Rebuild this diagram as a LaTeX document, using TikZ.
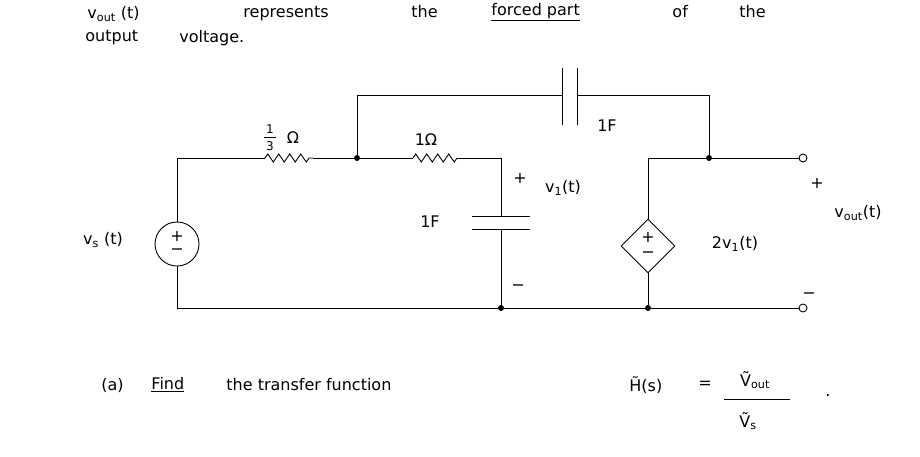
\documentclass[tikz,border=0pt]{standalone}
\usepackage{fontspec}
\setmainfont{DejaVu Sans}
\usetikzlibrary{decorations.pathmorphing,shapes.geometric}
\newcommand{\tld}[1]{#1\char"0303}
\begin{document}
\begin{tikzpicture}[x=1pt,y=-1pt,line width=0.9pt,
  dot/.style={circle,fill,inner sep=0pt,minimum size=6pt},
  term/.style={circle,draw,fill=white,inner sep=0pt,minimum size=8pt},
  res/.style={decorate,decoration={zigzag,segment length=11pt,amplitude=4pt}},
  lbl/.style={font=\fontsize{16}{18}\selectfont,inner sep=1pt},
  sml/.style={font=\fontsize{12}{14}\selectfont,inner sep=0.5pt}]
\useasboundingbox (0,0) rectangle (920,456);
\coordinate (TL) at (177,158);
\coordinate (BL) at (177,308);
\node[circle,draw,minimum size=44pt,inner sep=0pt] (vs) at (177,244) {};
\node[lbl] at (177,236) {+};
\node[lbl] at (177,252) {\textminus};
\coordinate (r1a) at (265,158); \coordinate (r1b) at (313,158);
\node[dot] (A) at (357,158) {};
\coordinate (r2a) at (413,158); \coordinate (r2b) at (457,158);
\coordinate (C1) at (501,158);
\coordinate (c1t) at (501,216); \coordinate (c1b) at (501,229);
\node[dot] (B) at (501,308) {};
\coordinate (AT) at (357,95);
\coordinate (OT) at (709,95);
\coordinate (c2l) at (562,95); \coordinate (c2r) at (577,95);
\node[dot] (O) at (709,158) {};
\coordinate (DT) at (648,158);
\node[diamond,draw,minimum size=54pt,inner sep=0pt] (dep) at (648,246) {};
\node[lbl] at (648,237) {+};
\node[lbl] at (648,255) {\textminus};
\node[dot] (D) at (648,308) {};
\node[term] (tp) at (803,158) {};
\node[term] (tm) at (803,308) {};
\draw (vs.north) -- (TL) -- (r1a);
\draw[res] (r1a) -- (r1b);
\draw (r1b) -- (A) -- (r2a);
\draw[res] (r2a) -- (r2b);
\draw (r2b) -- (C1) -- (c1t);
\draw (472,216) -- (530,216);
\draw (472,229) -- (530,229);
\draw (c1b) -- (B);
\draw (vs.south) -- (BL) -- (B) -- (D) -- (tm);
\draw (A) -- (AT) -- (c2l);
\draw (c2l) ++(0,-27) -- ++(0,57);
\draw (c2r) ++(0,-27) -- ++(0,57);
\draw (c2r) -- (OT) -- (O);
\draw (dep.north) -- (DT) -- (O) -- (tp);
\draw (dep.south) -- (D);
\node[sml] (n1) at (270,129) {1};
\draw[line width=0.7pt] (264,137) -- (276,137);
\node[sml] (n3) at (270,146) {3};
\node[lbl] at (293,138) {Ω};
\node[lbl] at (426,140) {1Ω};
\node[lbl] at (607,126) {1F};
\node[lbl] at (430,222) {1F};
\node[lbl] at (520,178) {+};
\node[lbl] at (563,188) {v\textsubscript{1}(t)};
\node[lbl] at (518,288) {\textminus};
\node[lbl] at (735,244) {2v\textsubscript{1}(t)};
\node[lbl] at (817,183) {+};
\node[lbl] at (858,213) {v\textsubscript{out}(t)};
\node[lbl] at (809,296) {\textminus};
\node[lbl] at (103,240) {v\textsubscript{s} (t)};
\node[lbl,anchor=west] at (86,14) {v\textsubscript{out} (t)};
\node[lbl,anchor=west] at (242,14) {represents};
\node[lbl,anchor=west] at (410,12) {the};
\node[lbl,anchor=west] at (490,12) {\underline{forced part}};
\node[lbl,anchor=west] at (671,12) {of};
\node[lbl,anchor=west] at (738,12) {the};
\node[lbl,anchor=west] at (84,38) {output};
\node[lbl,anchor=west] at (178,38) {voltage.};
\node[lbl,anchor=west] at (100,385) {(a)};
\node[lbl,anchor=west] at (150,385) {\underline{Find}};
\node[lbl,anchor=west] at (225,385) {the transfer function};
\node[lbl,anchor=west] at (628,385) {\tld{H}(s)};
\node[lbl] at (705,385) {=};
\node[lbl] (num) at (755,380) {\tld{V}\textsubscript{out}};
\draw (724,399) -- (790,399);
\node[lbl] (den) at (748,421) {\tld{V}\textsubscript{s}};
\node[lbl] at (828,395) {.};
\end{tikzpicture}
\end{document}
